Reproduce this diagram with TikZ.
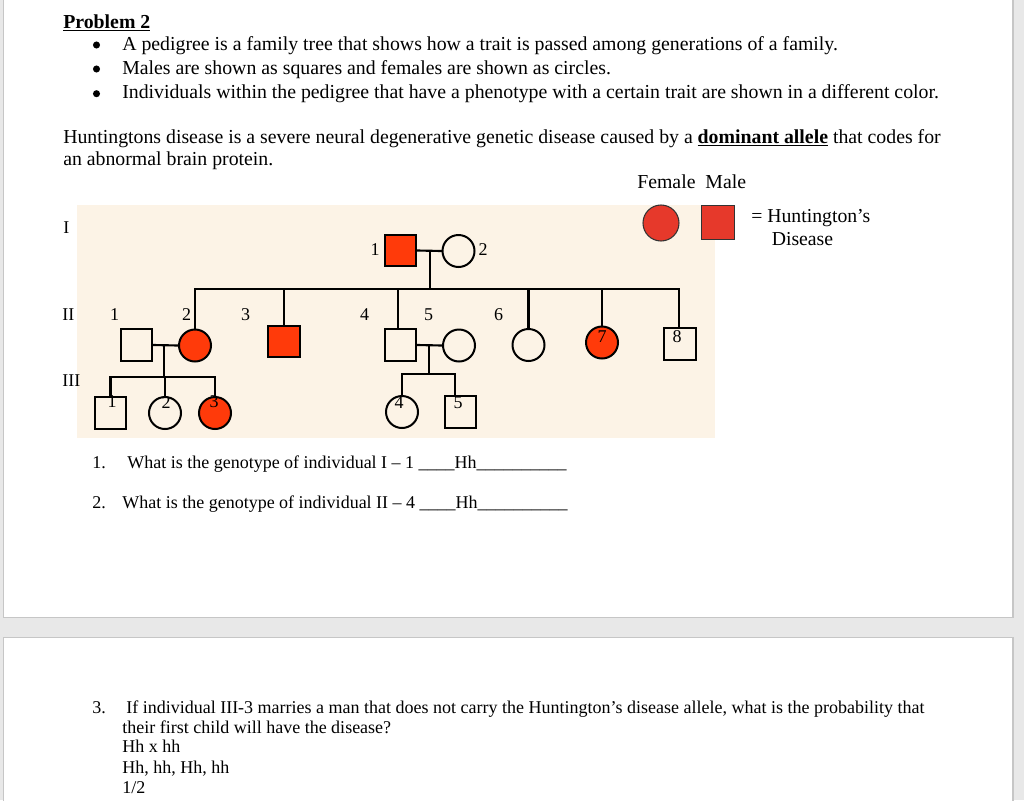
\documentclass[tikz,border=0pt]{standalone}
\usepackage{fontspec}
\setmainfont{Liberation Serif}
\definecolor{pedred}{HTML}{FF3A0A}
\definecolor{legred}{HTML}{E6392B}
\definecolor{beige}{HTML}{FCF3E6}
\definecolor{gapgray}{HTML}{E8E8E8}
\definecolor{edgegray}{HTML}{C6C6C6}
\tikzset{
  txt/.style={anchor=base west, inner sep=0pt, font=\fontsize{14.85}{17}\selectfont},
  bul/.style={circle, fill=black, minimum size=5.3pt, inner sep=0pt},
  qtxt/.style={anchor=base west, inner sep=0pt, font=\fontsize{13.5}{16}\selectfont},
  legtxt/.style={anchor=base west, inner sep=0pt, font=\fontsize{14.8}{17}\selectfont},
  lbl/.style={anchor=base, inner sep=0pt, font=\fontsize{13.5}{16}\selectfont},
  male/.style={draw=black, line width=1.5pt, rectangle, minimum size=23.5pt, inner sep=0pt},
  female/.style={draw=black, line width=1.5pt, circle, minimum size=24pt, inner sep=0pt},
  aff/.style={fill=pedred},
  ln/.style={line width=1.6pt, line cap=rect},
  panel/.style={fill=white, draw=edgegray, line width=0.8pt}
}
\begin{document}
\begin{tikzpicture}[x=0.75pt,y=-0.75pt]
\useasboundingbox (0,0) rectangle (1024,800);
% background and panels
\fill[gapgray] (0,0) rectangle (1024,800);
\draw[panel] (3.5,-5) rectangle (1013,617.5);
\draw[panel] (3.5,637.5) rectangle (1013,805);
% beige area
\fill[beige] (77,205) rectangle (715,438);

% header text
\node[txt] (title) at (63,28) {\textbf{\underline{Problem 2}}};
\node[bul] (b1) at (96.5,45) {};
\node[txt] (t1) at (122,50) {A pedigree is a family tree that shows how a trait is passed among generations of a family.};
\node[bul] (b2) at (96.5,69) {};
\node[txt] (t2) at (122,74) {Males are shown as squares and females are shown as circles.};
\node[bul] (b3) at (96.5,93.7) {};
\node[txt] (t3) at (122,98.7) {Individuals within the pedigree that have a phenotype with a certain trait are shown in a different color.};
\node[txt] (h1) at (63,143) {Huntingtons disease is a severe neural degenerative genetic disease caused by a \textbf{\underline{dominant allele}} that codes for};
\node[txt] (h2) at (63,165.7) {an abnormal brain protein.};
\node[txt] (fm) at (637,188) {Female\ \ Male};

% legend
\node[female, draw=black!80, line width=0.8pt, fill=legred, minimum size=27pt] (legF) at (661,223) {};
\node[male, draw=black!80, line width=0.8pt, fill=legred, minimum width=25pt, minimum height=26pt] (legM) at (718,222.5) {};
\node[legtxt] (leg1) at (751,222.7) {= Huntington’s};
\node[legtxt] (leg2) at (771.5,245) {Disease};

% generation labels
\node[qtxt] (gI) at (63,233) {I};
\node[qtxt] (gII) at (62,320) {II};
\node[qtxt] (gIII) at (62,386) {III};

% generation I
\node[male, aff] (I1) at (400.5,250.5) {};
\node[female] (I2) at (458.5,251) {};
\node[lbl] (lI1) at (375,255) {1};
\node[lbl] (lI2) at (483,255) {2};

% generation II
\node[male] (II1) at (136.5,345) {};
\node[female, aff] (II2) at (195,345.5) {};
\node[male, aff] (II3) at (284,341.5) {};
\node[male] (II4) at (400.5,345) {};
\node[female] (II5) at (459,345.5) {};
\node[female] (II6) at (528.5,345) {};
\node[female, aff] (II7) at (602,342.5) {};
\node[male] (II8) at (680,344) {};
\node[lbl] (lII1) at (114.5,320) {1};
\node[lbl] (lII2) at (186.5,320) {2};
\node[lbl] (lII3) at (245.5,320) {3};
\node[lbl] (lII4) at (364.5,320) {4};
\node[lbl] (lII5) at (428.5,320) {5};
\node[lbl] (lII6) at (498.5,320) {6};
\node[lbl] (lII7) at (602,342) {7};
\node[lbl] (lII8) at (677,342) {8};

% generation III
\node[male] (III1) at (110.5,413) {};
\node[female] (III2) at (165,413) {};
\node[female, aff] (III3) at (215,413) {};
\node[female] (III4) at (402,412) {};
\node[male] (III5) at (460.5,412) {};
\node[lbl] (lIII1) at (112,407) {1};
\node[lbl] (lIII2) at (166,408) {2};
\node[lbl] (lIII3) at (214,407) {3};
\node[lbl] (lIII4) at (399,408) {4};
\node[lbl] (lIII5) at (458,408) {5};

% connectors
\coordinate (m1) at (430,252);
\coordinate (s2l) at (195,289);
\coordinate (s2r) at (679,289);
\draw[ln] (I1.east) -- (I2.west);
\draw[ln] (m1) -- (m1 |- s2l);
\draw[ln] (s2l) -- (s2r);
\draw[ln] (s2l) -- (II2.north);
\draw[ln] (II3.north |- s2l) -- (II3.north);
\coordinate (v4) at (398,289);
\draw[ln] (v4) -- (v4 |- II4.north);
\draw[ln] (II6.north |- s2l) -- (II6.north);
\draw[ln] (II7.north |- s2l) -- (II7.north);
\draw[ln] (s2r) -- (s2r |- II8.north);

\draw[ln] (II1.east) -- (II2.west);
\coordinate (m2) at (164,346.7);
\coordinate (s3l) at (110.5,377);
\coordinate (s3r) at (215,377);
\draw[ln] (m2) -- (m2 |- s3l);
\draw[ln] (s3l) -- (s3r);
\draw[ln] (s3l) -- (III1.north);
\draw[ln] (III2.north |- s3l) -- (III2.north);
\draw[ln] (s3r) -- (III3.north);

\draw[ln] (II4.east) -- (II5.west);
\coordinate (m3) at (429,345.7);
\coordinate (s4l) at (402,374);
\coordinate (s4r) at (455,374);
\draw[ln] (m3) -- (m3 |- s4l);
\draw[ln] (s4l) -- (s4r);
\draw[ln] (s4l) -- (III4.north);
\draw[ln] (s4r) -- (s4r |- III5.north);

% questions
\node[qtxt] (q1n) at (92,468) {1.};
\node[qtxt] (q1) at (127,468) {What is the genotype of individual I – 1 \_\_\_\_Hh\_\_\_\_\_\_\_\_\_\_};
\node[qtxt] (q2n) at (92,508) {2.};
\node[qtxt] (q2) at (122,508) {What is the genotype of individual II – 4 \_\_\_\_Hh\_\_\_\_\_\_\_\_\_\_};
\node[qtxt] (q3n) at (92,713) {3.};
\node[qtxt] (q3a) at (126,713) {If individual III-3 marries a man that does not carry the Huntington’s disease allele, what is the probability that};
\node[qtxt] (q3b) at (122,733) {their first child will have the disease?};
\node[qtxt] (q3c) at (122,752.5) {Hh x hh};
\node[qtxt] (q3d) at (122,773) {Hh, hh, Hh, hh};
\node[qtxt] (q3e) at (122,793) {1/2};
\end{tikzpicture}
\end{document}
